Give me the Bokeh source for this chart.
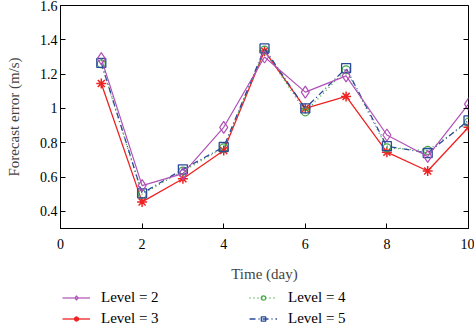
from bokeh.plotting import figure
from bokeh.layouts import column
from bokeh.models import Range1d, FixedTicker, LinearAxis, Legend, LegendItem
from bokeh.embed import file_html
from bokeh.resources import INLINE

days = [1, 2, 3, 4, 5, 6, 7, 8, 9, 10]
level2 = [1.29, 0.55, 0.62, 0.89, 1.30, 1.095, 1.19, 0.845, 0.72, 1.025]
level3 = [1.145, 0.455, 0.59, 0.755, 1.335, 1.00, 1.07, 0.745, 0.635, 0.89]
level4 = [1.26, 0.50, 0.635, 0.77, 1.34, 0.98, 1.225, 0.77, 0.755, 0.92]
level5 = [1.265, 0.505, 0.645, 0.775, 1.35, 1.00, 1.235, 0.78, 0.74, 0.93]
x_ticks = [0, 2, 4, 6, 8, 10]
y_ticks = [0.4, 0.6, 0.8, 1.0, 1.2, 1.4, 1.6]
y_labels = ["0.4", "0.6", "0.8", "1", "1.2", "1.4", "1.6"]

FONT = "Liberation Serif"
c2, c3, c4, c5 = "#b050b8", "#ee2222", "#44aa44", "#2a4a9a"

p = figure(frame_width=408, frame_height=223, output_backend="svg", toolbar_location=None,
           x_range=Range1d(0, 10), y_range=Range1d(0.3, 1.6),
           min_border_left=60, min_border_right=6, min_border_top=5, min_border_bottom=60)
p.xgrid.visible = False
p.ygrid.visible = False
p.outline_line_color = "black"
p.outline_line_width = 1
p.background_fill_color = "white"
p.border_fill_color = "white"

for ax in (p.xaxis[0], p.yaxis[0]):
    ax.major_tick_in = 5
    ax.major_tick_out = 0
    ax.minor_tick_line_color = None
    ax.axis_line_color = "black"
    ax.major_label_text_font = FONT
    ax.major_label_text_font_size = "14px"
    ax.major_label_text_color = "black"
    ax.axis_label_text_font = FONT
    ax.axis_label_text_font_size = "15px"
    ax.axis_label_text_font_style = "normal"

p.xaxis[0].ticker = FixedTicker(ticks=x_ticks)
p.yaxis[0].ticker = FixedTicker(ticks=y_ticks)
p.yaxis[0].major_label_overrides = {t: l for t, l in zip(y_ticks, y_labels)}
p.xaxis[0].axis_label = "Time (day)"
p.yaxis[0].axis_label = "Forecast error (m/s)"
p.xaxis[0].major_label_standoff = 10
p.xaxis[0].axis_label_standoff = 14
p.yaxis[0].major_label_standoff = 3
p.yaxis[0].axis_label_standoff = 15

right = LinearAxis(ticker=FixedTicker(ticks=y_ticks),
                   major_label_overrides={t: "" for t in y_ticks},
                   major_tick_in=5, major_tick_out=0, minor_tick_line_color=None,
                   axis_line_color=None, major_label_standoff=0)
p.add_layout(right, "right")

# chart series
p.line(days, level3, line_color=c3, line_width=1.3)
p.scatter(days, level3, marker="asterisk", size=10, line_color=c3, line_width=1.5)
p.line(days, level4, line_color=c4, line_width=1.3, line_dash="1 3")
p.scatter(days, level4, marker="circle", size=8, line_color=c4, fill_alpha=0, line_width=1.2)
p.line(days, level5, line_color=c5, line_width=1.3, line_dash="6 3 1 3")
p.scatter(days, level5, marker="square", size=9, line_color=c5, fill_alpha=0, line_width=1.3)
p.line(days, level2, line_color=c2, line_width=1.2)
p.scatter(days, level2, marker="diamond", size=12, line_color=c2, fill_alpha=0, line_width=1.2)

# legend strip below the chart (hidden renderers only supply legend glyphs)
lf = figure(width=474, height=39, output_backend="svg", toolbar_location=None,
            x_range=Range1d(0, 10), y_range=Range1d(0.3, 1.6),
            x_axis_type=None, y_axis_type=None,
            min_border=0, min_border_left=0, min_border_right=0,
            min_border_top=0, min_border_bottom=0)
lf.xgrid.visible = False
lf.ygrid.visible = False
lf.outline_line_color = None
lf.background_fill_color = "white"
lf.border_fill_color = "white"

kw = dict(visible=False)
ll2 = lf.line(days, level2, line_color=c2, line_width=1.2, **kw)
lm2 = lf.scatter(days, level2, marker="diamond", size=8, line_color=c2, fill_alpha=0, line_width=1.2, **kw)
ll3 = lf.line(days, level3, line_color=c3, line_width=1.3, **kw)
lm3 = lf.scatter(days, level3, marker="circle", size=4, line_color=c3, fill_color=c3, **kw)
ll4 = lf.line(days, level4, line_color=c4, line_width=1.3, line_dash="1 3", **kw)
lm4 = lf.scatter(days, level4, marker="circle", size=6, line_color=c4, fill_alpha=0, line_width=1.2, **kw)
ll5 = lf.line(days, level5, line_color=c5, line_width=1.3, line_dash="6 3 1 3", **kw)
lm5 = lf.scatter(days, level5, marker="square", size=6, line_color=c5, fill_alpha=0, line_width=1.3, **kw)

common = dict(orientation="vertical",
              label_text_font=FONT, label_text_font_size="15px", label_text_color="black",
              border_line_color=None, background_fill_alpha=0,
              glyph_width=28, glyph_height=11, spacing=4, padding=0,
              label_standoff=11, label_height=16, margin=0,
              inactive_fill_alpha=0, click_policy="none")

legA = Legend(items=[LegendItem(label="Level = 2", renderers=[ll2, lm2]),
                     LegendItem(label="Level = 3", renderers=[ll3, lm3])],
              location=(2, 0), **common)
legB = Legend(items=[LegendItem(label="Level = 4", renderers=[ll4, lm4]),
                     LegendItem(label="Level = 5", renderers=[ll5, lm5])],
              location=(189, 0), **common)
lf.add_layout(legA, "center")
lf.add_layout(legB, "center")

layout = column(p, lf, spacing=0)
open("out.html", "w").write(file_html(layout, INLINE))
